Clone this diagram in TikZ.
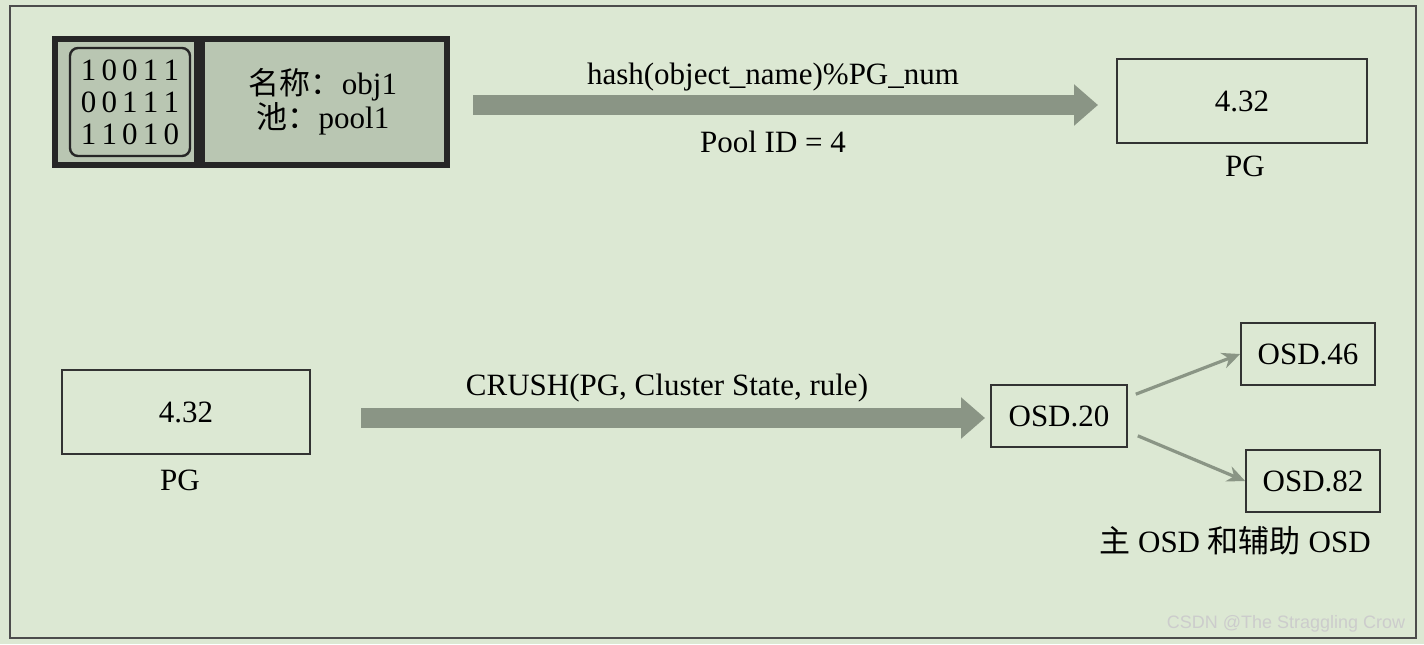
\documentclass[tikz,border=0pt]{standalone}
\usepackage{fontspec}
\setmainfont{Liberation Serif}
\newfontfamily\cjk{Noto Sans CJK SC}
\newfontfamily\wm{Liberation Sans}
\usetikzlibrary{arrows.meta}
\definecolor{bg}{HTML}{DCE8D3}
\definecolor{objfill}{HTML}{B9C6B2}
\definecolor{arr}{HTML}{8A9585}
\begin{document}
\begin{tikzpicture}[x=0.5pt,y=-0.5pt,
  box/.style={draw=black!80,line width=0.8pt,minimum width=#1,minimum height=42pt,font=\fontsize{15.5}{18}\selectfont},
  lbl/.style={font=\fontsize{15.5}{18}\selectfont},
  fat/.style={draw=arr,line width=10pt,-{Triangle[length=12pt,width=20pt]}},
  thin/.style={draw=arr,line width=1.6pt,-{Stealth[length=9pt,width=8pt]}}]
\useasboundingbox (0,0) rectangle (1424,644);
\fill[bg] (0,0) rectangle (1424,644);
\draw[black!70,line width=0.8pt] (10,6) rectangle (1416,638);
% object
\node[draw=black!85,line width=3pt,fill=objfill,minimum width=196pt,minimum height=63pt,inner sep=0pt] (obj) at (251,102) {};
\fill[black!85] (194,40) rectangle (205,165);
\node[draw=black!85,line width=1.2pt,rounded corners=4pt,fill=objfill,minimum width=60pt,minimum height=54pt,inner sep=0pt,
  font=\fontsize{15.5}{16}\selectfont,align=center] (bits) at (130,102) {1\,0\,0\,1\,1\\0\,0\,1\,1\,1\\1\,1\,0\,1\,0};
\node[lbl,align=center] (nm) at (323,102) {{\cjk 名称：}obj1\\[-1pt]{\cjk 池：}pool1};
% arrow 1
\coordinate (a1s) at (473,105);
\coordinate (a1e) at (1098,105);
\draw[fat] (a1s) -- (a1e);
\node[lbl] (t1) at (773,77) {hash(object\_name)\%PG\_num};
\node[lbl] (t2) at (773,142) {Pool ID = 4};
\node[box=125pt] (pg1) at (1242,101) {4.32};
\node[lbl] (pg1l) at (1245,166) {PG};
% row 2
\node[box=124pt] (pg2) at (186,412) {4.32};
\node[lbl] (pg2l) at (180,480) {PG};
\coordinate (a2s) at (361,418);
\coordinate (a2e) at (985,418);
\draw[fat] (a2s) -- (a2e);
\node[lbl] (t3) at (667,388) {CRUSH(PG, Cluster State, rule)};
\node[box=68pt,minimum height=31pt] (o20) at (1059,416) {OSD.20};
\node[box=67pt,minimum height=31pt] (o46) at (1308,354) {OSD.46};
\node[box=67pt,minimum height=31pt] (o82) at (1313,481) {OSD.82};
\draw[thin] (o20.north east)++(8,10) coordinate (s1) -- (o46.west);
\draw[thin] (o20.south east)++(10,-12) coordinate (s2) -- (o82.west);
\node[lbl] (cap) at (1235,541) {{\cjk 主} OSD {\cjk 和辅助} OSD};
\node[font=\wm\fontsize{9}{10}\selectfont,text=white!60!gray] (wm) at (1286,624) {CSDN @The Straggling Crow};
\end{tikzpicture}
\end{document}
